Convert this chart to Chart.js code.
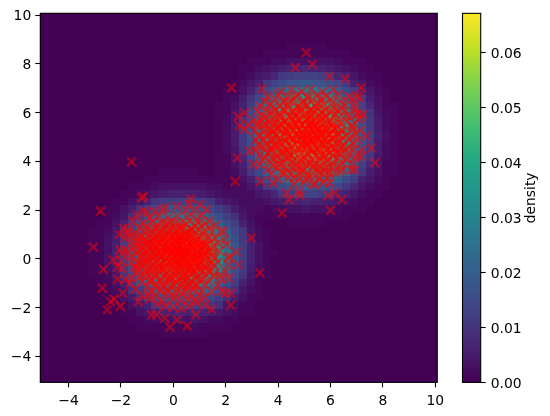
<!DOCTYPE html>
<html>
<head>
<meta charset="utf-8">
<script src="https://cdn.jsdelivr.net/npm/chart.js@4"></script>
<style>
  body { margin: 0; background: #fff; }
  canvas { position: absolute; left: 0; top: 0; }
</style>
</head>
<body>
<canvas id="densityChart" width="550" height="416"></canvas>
<canvas id="colorbarChart" width="550" height="416"></canvas>
<script>
const xTicks = [-4, -2, 0, 2, 4, 6, 8, 10];
const yTicks = [-4, -2, 0, 2, 4, 6, 8, 10];
const barTicks = [0, 0.01, 0.02, 0.03, 0.04, 0.05, 0.06];
const axisMin = -5.076;
const axisMax = 10.076;
const densityMax = 0.0671;
const cellSize = 0.303;

const viridis = ['#440154', '#482475', '#414487', '#355f8d', '#2a788e', '#21918c', '#22a884', '#44bf70', '#7ad151', '#bddf26', '#fde725'];

// density read by eye, in thousandths, on a coarse 50x50 grid. Bottom row first, trailing zeros left out.
const lowerCol = 4, lowerRow = 4;
const lowerDensity = [
  [],
  [],
  [0,0,0,0,0,0,0,0,0,0,0,1,1,1,1,1,1],
  [0,0,0,0,0,0,0,0,1,1,1,1,1,1,1,2,1,1,1,1],
  [0,0,0,0,0,0,0,1,1,2,2,3,3,4,3,4,3,2,2,1,1],
  [0,0,0,0,0,0,1,1,3,4,5,6,6,7,6,7,6,5,4,3,2,1,1],
  [0,0,0,0,0,1,1,3,4,6,10,11,13,12,13,12,11,10,9,4,3,1,1],
  [0,0,0,0,1,1,3,5,9,12,14,16,17,18,18,17,16,14,12,9,5,3,1,1],
  [0,0,0,0,1,2,4,9,12,16,20,22,24,26,25,24,22,20,16,12,9,4,2,1],
  [0,0,0,1,1,3,6,12,17,21,26,30,33,34,32,33,29,26,20,16,12,6,3,1],
  [0,0,1,1,2,4,10,14,19,26,32,36,39,41,40,38,35,31,25,19,14,10,4,1,1],
  [0,0,1,1,3,5,11,16,22,30,36,42,46,47,46,45,42,35,29,22,16,11,5,2,1],
  [0,0,1,1,3,6,12,17,24,32,38,45,50,49,52,50,46,39,32,24,17,12,6,3,1],
  [0,0,1,1,3,6,12,18,25,33,40,46,51,53,52,51,47,41,33,25,18,12,6,3,1,1],
  [0,0,1,1,3,6,12,17,24,32,39,45,49,52,62,60,48,40,32,24,17,12,6,3,1],
  [0,0,1,1,3,5,11,16,22,29,35,41,46,47,47,46,43,36,29,22,16,11,5,2,1],
  [0,0,1,1,2,4,10,14,19,25,31,36,38,41,40,38,35,30,25,19,14,10,4,2,1],
  [0,0,0,1,1,3,6,12,16,20,25,29,33,32,33,32,29,25,20,16,12,6,3,1],
  [0,0,0,0,1,2,4,9,12,16,19,22,24,25,25,24,22,19,16,12,9,4,2,1],
  [0,0,0,0,1,1,3,5,9,12,14,16,17,18,18,17,16,14,12,9,5,3,1,1],
  [0,0,0,0,0,1,1,3,4,6,10,11,12,12,13,12,11,10,6,4,3,1,1],
  [0,0,0,0,0,0,1,1,2,3,4,5,6,6,6,6,5,4,3,2,1,1],
  [0,0,0,0,0,0,0,1,1,1,2,3,3,3,3,3,3,2,2,1,1],
  [0,0,0,0,0,0,0,0,0,1,1,1,1,1,1,1,1,1,1],
  [0,0,0,0,0,0,0,0,0,0,0,1,1,1,1,1],
  [],
  []
];
const upperCol = 20, upperRow = 20;
const upperDensity = [
  [],
  [0,0,0,0,0,0,0,0,0,0,0,1,1,1,1,1],
  [0,0,0,0,0,0,0,0,1,1,1,1,1,1,1,1,1,1,1],
  [0,0,0,0,0,0,1,1,1,2,2,3,3,4,3,3,3,2,1,1,1],
  [0,0,0,0,0,1,1,2,3,4,5,6,6,7,6,6,5,4,3,2,1,1],
  [0,0,0,0,1,1,2,4,5,7,11,12,13,13,13,12,11,7,6,4,2,1,1],
  [0,0,0,0,1,2,4,6,11,13,15,17,19,19,18,18,16,14,11,7,4,2,1,1],
  [0,0,0,1,1,3,6,11,14,18,21,24,26,26,27,25,23,20,15,12,6,4,2,1],
  [0,0,1,1,2,5,10,14,19,24,28,31,33,35,34,33,30,26,21,15,11,5,3,1,1],
  [0,0,1,1,3,6,12,18,24,30,34,38,41,42,40,41,37,31,25,19,13,7,4,1,1],
  [0,0,1,1,4,7,14,21,28,35,38,44,47,46,48,45,42,36,29,22,15,10,4,2,1],
  [0,0,1,2,4,10,15,23,31,39,44,46,50,52,49,51,46,40,33,24,16,11,5,2,1],
  [0,0,1,2,5,11,16,24,33,40,46,50,53,51,54,52,49,42,34,25,17,12,5,2,1],
  [0,0,1,2,5,11,17,25,34,42,47,52,51,55,53,50,50,43,35,26,17,12,6,3,1],
  [0,0,1,2,5,11,16,24,33,41,46,49,54,52,53,51,49,42,34,25,17,11,5,2,1],
  [0,0,1,2,4,10,15,23,31,38,44,48,49,50,51,49,45,40,32,24,16,11,5,2,1],
  [0,0,1,1,4,7,14,21,28,34,39,43,46,47,45,45,42,36,29,21,15,10,4,2,1],
  [0,0,1,1,3,6,12,18,24,29,34,38,40,41,41,40,36,31,25,18,13,7,3,1,1],
  [0,0,0,1,2,5,10,14,19,24,28,32,33,35,34,32,30,26,20,15,11,5,3,1],
  [0,0,0,1,1,3,6,11,15,18,21,24,26,26,26,25,23,19,15,12,6,4,2,1],
  [0,0,0,0,1,2,4,6,11,13,15,17,18,19,18,17,16,14,11,6,4,2,1],
  [0,0,0,0,0,1,2,4,5,7,11,12,13,13,13,12,11,7,6,4,2,1,1],
  [0,0,0,0,0,1,1,2,3,4,5,6,6,7,6,6,5,4,3,2,1,1],
  [0,0,0,0,0,0,1,1,1,2,2,3,3,3,3,3,3,2,1,1,1],
  [0,0,0,0,0,0,0,0,1,1,1,1,1,1,1,1,1,1,1],
  [0,0,0,0,0,0,0,0,0,0,0,1,1,1,1,1],
  []
];

// samples around (0, 0)
const lowerSamples = [
  [-1.21,2.50],[-1.14,2.56],[-2.78,1.96],[-3.05,.48],[-2.67,-.43],[-2.71,-1.21],[-2.52,-2.10],[-2.39,-1.76],[-2.26,-1.66],[-2.02,-1.95],
  [-2.13,-.84],[-2.29,-.04],[-2.13,-.34],[-1.93,-1.41],[-1.33,-1.76],[-.95,-1.45],[-.83,-2.30],[-.64,-2.30],[-.32,-2.44],[-.13,-2.81],
  [.15,-2.51],[.53,-2.76],[.86,-2.30],[1.46,-2.07],[1.21,-1.89],[2.19,-1.91],[2.19,-1.41],[1.84,-1.34],[2.0,-1.41],[2.12,-.8],
  [2.48,-.25],[2.41,.27],[2.03,.58],[1.91,1.12],[1.63,1.40],[1.27,2.02],[1.02,2.22],[.67,2.46],[.61,2.26],[-1.6,3.98],[2.98,.86],[3.3,-.58],
  [-2.06,.99],[-1.91,1.26],[-1.75,1.08],[-2.03,.37],[-1.84,.37],[-1.65,.92],[-1.40,1.81],[-1.14,1.95],[-.7,1.95],[-.32,2.09],[.13,2.15],
  [-1.59,-.8],[-1.84,-.86],[-1.4,-.38],[1.59,-.59],[1.78,-.66],[2.1,.03],[-1.72,1.2],[-1.55,1.55],[-1.0,1.9],[-.4,2.02],[.48,2.0],[.8,1.95],
  [1.1,1.8],[1.35,1.55],[1.8,1.1],[1.95,.75],[2.15,.1],[2.1,-.25],[2.0,-.55],[1.85,-.85],[1.7,-1.1],[1.45,-1.35],[1.2,-1.6],[.9,-1.8],
  [.6,-1.95],[.3,-2.05],[0,-2.0],[-.3,-1.95],[-.6,-1.85],[-.9,-1.65],[-1.2,-1.5],[-1.45,-1.25],[-1.65,-1.0],[-1.95,-.4],[-2.0,-.1],[-1.95,.2],[-1.85,.85],
  [-.9,1.66],[-.55,1.74],[-.2,1.68],[.15,1.75],[.55,1.71],[.9,1.64],
  [-1.2,1.46],[-.8,1.55],[-.45,1.48],[-.1,1.53],[.25,1.44],[.6,1.56],[.95,1.49],[1.25,1.42],
  [-1.3,1.27],[-1.0,1.34],[-.6,1.25],[-.3,1.36],[.05,1.28],[.4,1.33],[.7,1.24],[1.05,1.35],[1.4,1.26],
  [-1.45,1.06],[-1.1,1.14],[-.8,1.08],[-.5,1.15],[-.15,1.05],[.15,1.12],[.45,1.07],[.75,1.16],[1.1,1.04],[1.45,1.12],
  [-1.5,.86],[-1.2,.94],[-.9,.88],[-.6,.95],[-.35,.85],[-.05,.92],[.2,.87],[.5,.94],[.8,.86],[1.05,.93],[1.35,.88],[1.6,.84],
  [-1.55,.66],[-1.25,.74],[-1.0,.68],[-.7,.75],[-.4,.65],[-.15,.72],[.1,.67],[.3,.75],[.6,.66],[.85,.73],[1.15,.68],[1.45,.74],[1.7,.65],
  [-1.6,.46],[-1.3,.54],[-.95,.47],[-.65,.55],[-.4,.45],[-.2,.52],[.05,.47],[.25,.54],[.5,.45],[.7,.53],[.95,.48],[1.2,.55],[1.55,.46],
  [-1.7,.26],[-1.3,.34],[-1.0,.27],[-.75,.35],[-.5,.25],[-.25,.33],[0,.28],[.2,.35],[.4,.26],[.65,.33],[.9,.27],[1.2,.34],[1.5,.25],[1.75,.32],
  [-1.65,.06],[-1.25,.14],[-.95,.07],[-.7,.15],[-.45,.05],[-.2,.13],[.05,.08],[.25,.15],[.5,.06],[.7,.13],[.95,.07],[1.25,.14],[1.6,.05],
  [-1.6,-.14],[-1.2,-.06],[-.9,-.13],[-.6,-.05],[-.35,-.15],[-.1,-.07],[.1,-.12],[.35,-.05],[.6,-.14],[.8,-.07],[1.1,-.13],[1.4,-.06],[1.7,-.15],
  [-1.5,-.34],[-1.15,-.26],[-.85,-.33],[-.55,-.25],[-.3,-.35],[-.05,-.27],[.2,-.32],[.45,-.25],[.7,-.34],[.95,-.27],[1.25,-.33],[1.55,-.26],
  [-1.4,-.54],[-1.05,-.46],[-.75,-.53],[-.45,-.45],[-.2,-.55],[.05,-.47],[.3,-.52],[.55,-.45],[.8,-.54],[1.05,-.47],[1.4,-.53],
  [-1.3,-.74],[-.95,-.66],[-.65,-.73],[-.35,-.65],[-.1,-.75],[.15,-.67],[.4,-.72],[.65,-.65],[.95,-.74],[1.25,-.67],[1.55,-.73],
  [-1.2,-.94],[-.85,-.86],[-.5,-.93],[-.2,-.85],[.1,-.95],[.4,-.87],[.7,-.92],[1.0,-.85],[1.35,-.94],
  [-1.0,-1.14],[-.7,-1.06],[-.35,-1.13],[0,-1.05],[.3,-1.15],[.6,-1.07],[.9,-1.12],[1.2,-1.05],
  [-.85,-1.34],[-.5,-1.26],[-.2,-1.33],[.15,-1.25],[.45,-1.35],[.8,-1.27],[1.1,-1.32],
  [-.65,-1.54],[-.3,-1.46],[.05,-1.53],[.35,-1.45],[.7,-1.55],[1.0,-1.47],
  [-.4,-1.74],[0,-1.66],[.3,-1.73],[.55,-1.65],[.85,-1.72]
];
const lowerCore = [
  [.02,.11],[.31,-.07],[-.13,.38],[.47,.29],[.18,.58],[-.29,.04],[.11,-.23],[.62,.07],[-.06,.71],[.39,.66],[-.41,.49],[.72,.41],[-.52,.16],[.27,-.38],[-.18,-.31],
  [.55,-.21],[.83,.19],[-.37,.78],[.08,.91],[.58,.86],[-.66,.42],[.91,.52],[-.48,-.18],[.42,-.53],[-.02,-.58],[.77,-.12],[-.72,.03],[.23,.99],[-.23,.96],[.68,.71],
  [.14,.23],[.36,.44],[-.09,.17],[.21,.06],[.53,.16],[-.22,.24],[.03,.53],[.29,.77],[-.31,.62],[.49,.53],[.12,-.11],[.41,.03],[-.14,-.12],[.66,.24],[.85,.36],
  [-.57,.67],[-.76,.24],[-.83,.53],[.98,.31],[1.07,.11],[.94,-.09],[-.61,-.33],[-.39,-.46],[-.12,-.73],[.17,-.52],[.37,-.78],[.61,-.42],[.86,-.33],[.73,-.63],[1.02,-.41],
  [-.79,-.22],[-.94,-.02],[-1.05,.22],[-.89,.71],[-.68,.86],[-.47,1.01],[-.17,1.19],[.09,1.12],[.33,1.22],[.56,1.09],[.82,1.03],[1.01,.77],[1.14,.56],[1.21,.27],[1.26,-.02],
  [1.17,-.26],[1.09,-.57],[.88,-.81],[.61,-.97],[.33,-1.03],[.06,-.94],[-.21,-1.02],[-.47,-.83],[-.71,-.64],[-.92,-.47],[-1.11,-.19],[-1.23,.07],[-1.17,.42],[-1.08,.77],[-.91,1.02],
  [-.05,.29],[.26,.33],[.44,.19],[.07,.41],[-.27,.41],[.57,.46],[.17,.37],[.33,.12],[-.03,-.04],[.22,-.17],[.48,-.11],[-.33,-.13],[-.56,.3],[.74,.58],[.51,.72],
  [.12,.76],[-.15,.56],[-.44,.31],[-.24,-.19],[.03,-.36],[.34,-.29],[.64,-.31],[.79,.03],[.96,.14],[.86,.66],[.34,.94],[-.11,.84],[-.52,.82],[-.74,.61],[-.86,.33],
  [-.88,.12],[-.67,-.12],[-.49,-.37],[-.26,-.61],[.09,-.69],[.46,-.67],[.71,-.47],[.92,-.21],[1.13,.02],[1.11,.37],[1.03,.62],[.71,.93],[.44,1.03],[.04,1.03],[-.33,.92],
  [-1.38,.52],[-1.42,.21],[-1.36,-.16],[-1.28,-.43],[-1.12,-.71],[-.91,-.93],[-.63,-1.18],[-.27,-1.29],[.13,-1.37],[.52,-1.21],[.85,-1.07],[1.13,-.83],[1.33,-.47],[1.46,-.17],[1.49,.14],
  [1.42,.47],[1.31,.81],[1.16,1.14],[.82,1.34],[.47,1.42],[.09,1.48],[-.27,1.44],[-.63,1.38],[-.95,1.19],[-1.21,.91],[-1.32,.76],[-.72,1.28],[.66,1.21],[1.27,.57],[1.38,-.28],
  [.76,-1.16],[-.07,-1.18],[-.81,-.84],[-1.26,-.22],[-1.04,.62],[-.38,1.21],[.27,1.31],[.97,1.21],[1.34,.29],[1.21,-.44],[.49,-1.09],[-.44,-1.07],[-1.02,-.56],[-1.31,.33],[-.14,1.38],
  [.19,.19],[.08,.31],[.28,.24],[.38,.09],[-.02,.22],[.11,.48],[.33,.57],[.56,.34],[.61,.59],[-.18,.47],[-.34,.27],[-.26,.69],[.16,.69],[.43,.79],[.77,.49],
  [.87,.07],[.69,-.04],[.52,-.33],[.24,-.26],[-.07,-.21],[-.41,.09],[-.62,.21],[-.69,.53],[-.47,.63],[.02,.83],[.24,.87],[.63,.97],[.93,.79],[1.07,.47],[1.16,.18],
  [1.04,-.21],[.81,-.53],[.56,-.77],[.22,-.87],[-.09,-.87],[-.37,-.71],[-.58,-.52],[-.81,-.38],[-1.01,-.09],[-1.09,.33],[-.97,.58],[-.79,.82],[-.58,1.03],[-.27,1.08],[.18,1.23]
];

// samples around (5, 5)
const upperSamples = [
  [5.07,8.46],[5.31,7.98],[4.65,7.85],[5.95,7.48],[6.56,7.39],[2.22,7.02],[7.17,7.02],[7.09,6.61],[7.01,6.68],[3.39,6.98],
  [2.48,5.83],[2.54,5.45],[2.73,5.99],[2.86,5.51],[2.73,5.31],[2.44,4.14],[2.92,4.42],[3.05,3.87],[2.36,3.18],[3.33,3.18],
  [3.81,3.11],[4.32,2.70],[4.42,2.43],[4.15,1.88],[4.80,2.74],[4.83,2.59],[5.91,2.59],[6.16,2.70],[6.44,2.43],[6.0,1.99],
  [7.7,3.94],[7.56,4.55],[7.37,5.03],[7.24,5.93],[7.05,5.95],[7.15,5.8],[6.8,3.66],[6.92,3.66],[6.35,3.59],[7.18,4.21],[5.97,3.11],[5.34,3.05],
  [4.1,6.86],[4.5,6.94],[4.9,6.87],[5.25,6.95],[5.7,6.86],[6.1,6.93],
  [3.6,6.66],[4.0,6.74],[4.35,6.67],[4.75,6.75],[5.1,6.65],[5.5,6.72],[5.85,6.68],[6.3,6.75],[6.7,6.66],
  [3.5,6.46],[3.9,6.54],[4.25,6.47],[4.6,6.55],[4.95,6.45],[5.3,6.53],[5.65,6.48],[6.0,6.55],[6.4,6.46],[6.8,6.53],
  [3.3,6.26],[3.7,6.34],[4.05,6.27],[4.4,6.35],[4.75,6.25],[5.1,6.33],[5.4,6.28],[5.75,6.35],[6.1,6.26],[6.5,6.33],[6.9,6.27],
  [3.2,6.06],[3.55,6.14],[3.9,6.07],[4.2,6.15],[4.55,6.05],[4.85,6.13],[5.2,6.08],[5.5,6.15],[5.8,6.06],[6.2,6.13],[6.55,6.07],[6.95,6.14],
  [3.4,5.86],[3.7,5.94],[4.05,5.87],[4.35,5.95],[4.65,5.85],[4.95,5.93],[5.25,5.88],[5.55,5.95],[5.85,5.86],[6.2,5.93],[6.6,5.87],[7.0,5.94],
  [3.05,5.66],[3.35,5.74],[3.65,5.67],[3.95,5.75],[4.25,5.65],[4.55,5.73],[4.8,5.68],[5.1,5.75],[5.4,5.66],[5.7,5.73],[6.0,5.67],[6.3,5.74],[6.65,5.65],[7.05,5.72],
  [3.2,5.46],[3.5,5.54],[3.8,5.47],[4.1,5.55],[4.4,5.45],[4.65,5.53],[4.9,5.48],[5.2,5.55],[5.45,5.46],[5.75,5.53],[6.05,5.47],[6.4,5.54],[6.8,5.45],
  [3.1,5.26],[3.45,5.34],[3.75,5.27],[4.0,5.35],[4.3,5.25],[4.55,5.33],[4.8,5.28],[5.05,5.35],[5.3,5.26],[5.55,5.33],[5.85,5.27],[6.15,5.34],[6.5,5.25],[6.85,5.32],[7.15,5.27],
  [3.3,5.06],[3.6,5.14],[3.9,5.07],[4.2,5.15],[4.45,5.05],[4.7,5.13],[4.95,5.08],[5.15,5.15],[5.4,5.06],[5.65,5.13],[5.95,5.07],[6.25,5.14],[6.6,5.05],[6.95,5.12],
  [3.15,4.86],[3.45,4.94],[3.75,4.87],[4.05,4.95],[4.3,4.85],[4.55,4.93],[4.8,4.88],[5.0,4.95],[5.25,4.86],[5.5,4.93],[5.75,4.87],[6.05,4.94],[6.35,4.85],[6.7,4.92],[7.05,4.87],
  [3.25,4.66],[3.55,4.74],[3.85,4.67],[4.15,4.75],[4.4,4.65],[4.65,4.73],[4.9,4.68],[5.1,4.75],[5.35,4.66],[5.6,4.73],[5.85,4.67],[6.15,4.74],[6.5,4.65],[6.85,4.72],
  [3.1,4.46],[3.4,4.54],[3.7,4.47],[4.0,4.55],[4.3,4.45],[4.55,4.53],[4.8,4.48],[5.05,4.55],[5.3,4.46],[5.55,4.53],[5.85,4.47],[6.2,4.54],[6.55,4.45],[6.9,4.52],[7.2,4.47],
  [3.3,4.26],[3.6,4.34],[3.9,4.27],[4.2,4.35],[4.5,4.25],[4.8,4.33],[5.1,4.28],[5.35,4.35],[5.65,4.26],[5.95,4.33],[6.3,4.27],[6.65,4.34],[7.0,4.25],
  [3.4,4.06],[3.75,4.14],[4.05,4.07],[4.4,4.15],[4.7,4.05],[5.0,4.13],[5.3,4.08],[5.6,4.15],[5.9,4.06],[6.25,4.13],[6.6,4.07],[6.95,4.14],
  [3.3,3.86],[3.7,3.94],[4.0,3.87],[4.35,3.95],[4.7,3.85],[5.05,3.93],[5.4,3.88],[5.75,3.95],[6.1,3.86],[6.45,3.93],[6.85,3.87],
  [3.6,3.66],[3.95,3.74],[4.3,3.67],[4.65,3.75],[5.0,3.65],[5.35,3.73],[5.7,3.68],[6.05,3.75],[6.45,3.66],
  [3.75,3.46],[4.1,3.54],[4.5,3.47],[4.9,3.55],[5.25,3.45],[5.6,3.53],[5.95,3.48],[6.2,3.55],
  [4.0,3.26],[4.4,3.34],[4.8,3.27],[5.2,3.35],[5.55,3.25],[5.9,3.33],
  [4.6,3.06],[5.0,3.14],[5.4,3.07],[5.75,3.13]
];
const upperCore = [
  [5.02,4.91],[5.31,4.77],[4.87,5.18],[5.47,5.09],[5.18,5.38],[4.71,4.84],[5.11,4.57],[5.62,4.87],[4.94,5.51],[5.39,5.46],[4.59,5.29],[5.72,5.21],[4.48,4.96],[5.27,4.42],[4.82,4.49],
  [5.55,4.59],[5.83,4.99],[4.63,5.58],[5.08,5.71],[5.58,5.66],[4.34,5.22],[5.91,5.32],[4.52,4.62],[5.42,4.27],[4.98,4.22],[5.77,4.68],[4.28,4.83],[5.23,5.79],[4.77,5.76],[5.68,5.51],
  [5.14,5.03],[5.36,5.24],[4.91,4.97],[5.21,4.86],[5.53,4.96],[4.78,5.04],[5.03,5.33],[5.29,5.57],[4.69,5.42],[5.49,5.33],[5.12,4.69],[5.41,4.83],[4.86,4.68],[5.66,5.04],[5.85,5.16],
  [4.43,5.47],[4.24,5.04],[4.17,5.33],[5.98,5.11],[6.07,4.91],[5.94,4.71],[4.39,4.47],[4.61,4.34],[4.88,4.07],[5.17,4.28],[5.37,4.02],[5.61,4.38],[5.86,4.47],[5.73,4.17],[6.02,4.39],
  [4.21,4.58],[4.06,4.78],[3.95,5.02],[4.11,5.51],[4.32,5.66],[4.53,5.81],[4.83,5.99],[5.09,5.92],[5.33,6.02],[5.56,5.89],[5.82,5.83],[6.01,5.57],[6.14,5.36],[6.21,5.07],[6.26,4.78],
  [6.17,4.54],[6.09,4.23],[5.88,3.99],[5.61,3.83],[5.33,3.77],[5.06,3.86],[4.79,3.78],[4.53,3.97],[4.29,4.16],[4.08,4.33],[3.89,4.61],[3.77,4.87],[3.83,5.22],[3.92,5.57],[4.09,5.82],
  [3.62,5.32],[3.58,5.01],[3.64,4.64],[3.72,4.37],[3.88,4.09],[4.09,3.87],[4.37,3.62],[4.73,3.51],[5.13,3.43],[5.52,3.59],[5.85,3.73],[6.13,3.97],[6.33,4.33],[6.46,4.63],[6.49,4.94],
  [6.42,5.27],[6.31,5.61],[6.16,5.94],[5.82,6.14],[5.47,6.22],[5.09,6.28],[4.73,6.24],[4.37,6.18],[4.05,5.99],[3.79,5.71],[3.68,5.56],[4.28,6.08],[5.66,6.01],[6.27,5.37],[6.38,4.52],
  [5.76,3.64],[4.93,3.62],[4.19,3.96],[3.74,4.58],[3.96,5.42],[4.62,6.01],[5.27,6.11],[5.97,6.01],[6.34,5.09],[6.21,4.36],[5.49,3.71],[4.56,3.73],[3.98,4.24],[3.69,5.13],[4.86,6.18],
  [3.23,5.58],[3.52,5.83],[3.82,6.23],[4.18,6.42],[4.67,6.63],[5.16,6.58],[5.62,6.61],[6.08,6.42],[6.47,6.17],[6.72,5.82],[6.83,5.43],[6.79,5.02],[6.72,4.58],[6.62,4.17],[6.38,3.83],
  [5.95,3.57],[5.58,3.34],[5.07,3.27],[4.62,3.31],[4.22,3.52],[3.84,3.82],[3.52,4.17],[3.34,4.62],[3.26,5.03],[3.42,5.49],[3.76,6.04],[4.43,6.46],[4.98,6.41],[5.53,6.37],[6.27,6.05],
  [5.17,4.98],[5.06,5.12],[5.27,5.04],[5.38,4.92],[4.96,4.83],[5.1,5.27],[5.33,5.37],[5.57,5.18],[5.63,5.38],[4.82,5.31],[4.67,5.07],[4.75,5.5],[5.16,5.5],[5.44,5.62],[5.78,5.33],
  [5.88,4.86],[5.69,4.76],[5.52,4.47],[5.24,4.54],[4.93,4.59],[4.59,4.89],[4.38,5.02],[4.31,5.34],[4.53,5.44],[5.02,5.64],[5.24,5.68],[5.63,5.77],[5.93,5.59],[6.08,5.27],[6.16,4.98],
  [6.04,4.59],[5.81,4.27],[5.56,4.03],[5.22,3.93],[4.91,3.93],[4.63,4.09],[4.42,4.28],[4.19,4.42],[3.99,4.71],[3.91,5.13],[4.03,5.38],[4.21,5.62],[4.42,5.83],[4.73,5.88],[5.18,6.03]
];

const tickFont = { family: 'DejaVu Sans', size: 13.9 };

function signedLabel(v) {
  return v < 0 ? '\u2212' + Math.abs(v) : String(v);
}

function hexRgb(h) {
  return [1, 3, 5].map(k => parseInt(h.slice(k, k + 2), 16));
}

function viridisColor(value) {
  const t = Math.min(value / densityMax, 1) * (viridis.length - 1);
  const k = Math.min(Math.floor(t), viridis.length - 2);
  const a = hexRgb(viridis[k]), b = hexRgb(viridis[k + 1]);
  const c = a.map((v, n) => Math.round(v + (b[n] - v) * (t - k)));
  return `rgb(${c[0]},${c[1]},${c[2]})`;
}

function patchValue(patch, col, row, i, j) {
  const r = patch[j - row];
  return r && r[i - col] ? r[i - col] : 0;
}

const frame = {
  id: 'frame',
  afterDatasetsDraw(chart) {
    const a = chart.chartArea, ctx = chart.ctx;
    ctx.save();
    ctx.strokeStyle = '#000';
    ctx.lineWidth = 1.1;
    ctx.strokeRect(a.left, a.top, a.right - a.left, a.bottom - a.top);
    ctx.restore();
  }
};

const heatmap = {
  id: 'heatmap',
  beforeDatasetsDraw(chart) {
    const { x, y } = chart.scales, ctx = chart.ctx;
    for (let j = 0; j < 50; j++) {
      for (let i = 0; i < 50; i++) {
        const v = patchValue(lowerDensity, lowerCol, lowerRow, i, j) + patchValue(upperDensity, upperCol, upperRow, i, j);
        // snap to whole pixels so neighbouring cells leave no seams
        const x0 = Math.round(x.getPixelForValue(axisMin + i * cellSize));
        const x1 = Math.round(x.getPixelForValue(axisMin + (i + 1) * cellSize));
        const y0 = Math.round(y.getPixelForValue(axisMin + (j + 1) * cellSize));
        const y1 = Math.round(y.getPixelForValue(axisMin + j * cellSize));
        ctx.fillStyle = viridisColor(v / 1000);
        ctx.fillRect(x0, y0, x1 - x0, y1 - y0);
      }
    }
  }
};

const axisGrid = { drawOnChartArea: false, drawTicks: true, tickLength: 5, tickColor: '#000', tickWidth: 1.1 };

new Chart(document.getElementById('densityChart'), {
  type: 'scatter',
  data: {
    datasets: [{
      data: lowerSamples.concat(lowerCore, upperSamples, upperCore).map(p => ({ x: p[0], y: p[1] })),
      pointStyle: 'crossRot',
      pointRadius: 6.2,
      borderColor: 'rgba(255,0,0,0.5)',
      borderWidth: 2.2,
      backgroundColor: 'rgba(255,0,0,0.5)'
    }]
  },
  options: {
    responsive: false,
    animation: false,
    layout: { padding: { left: 0, top: 13.3, right: 112.7, bottom: 0 } },
    plugins: { legend: { display: false }, tooltip: { enabled: false } },
    scales: {
      x: {
        type: 'linear',
        min: axisMin,
        max: axisMax,
        afterBuildTicks: s => { s.ticks = xTicks.map(v => ({ value: v })); },
        afterFit: s => { s.height = 33.6; },
        border: { display: false },
        grid: axisGrid,
        ticks: { color: '#000', font: tickFont, padding: 6, maxRotation: 0, autoSkip: false, callback: signedLabel }
      },
      y: {
        type: 'linear',
        min: axisMin,
        max: axisMax,
        afterBuildTicks: s => { s.ticks = yTicks.map(v => ({ value: v })); },
        afterFit: s => { s.width = 40.3; },
        border: { display: false },
        grid: axisGrid,
        ticks: { color: '#000', font: tickFont, padding: 4, labelOffset: 1.5, autoSkip: false, callback: signedLabel }
      }
    }
  },
  plugins: [heatmap, frame]
});

// colorbar, one floating bar on the density scale
const colorbarLabel = {
  id: 'colorbarLabel',
  afterDraw(chart) {
    const ctx = chart.ctx, a = chart.chartArea;
    ctx.save();
    ctx.translate(531, (a.top + a.bottom) / 2);
    ctx.rotate(-Math.PI / 2);
    ctx.font = '13.9px "DejaVu Sans"';
    ctx.fillStyle = '#000';
    ctx.textAlign = 'center';
    ctx.textBaseline = 'middle';
    ctx.fillText('density', 0, 0);
    ctx.restore();
  }
};

new Chart(document.getElementById('colorbarChart'), {
  type: 'bar',
  data: {
    labels: ['density'],
    datasets: [{
      data: [[0, densityMax]],
      barPercentage: 1,
      categoryPercentage: 1,
      backgroundColor(context) {
        const a = context.chart.chartArea;
        if (!a) return viridis[0];
        const g = context.chart.ctx.createLinearGradient(0, a.bottom, 0, a.top);
        viridis.forEach((c, k) => g.addColorStop(k / (viridis.length - 1), c));
        return g;
      }
    }]
  },
  options: {
    responsive: false,
    animation: false,
    layout: { padding: { left: 462.5, top: 13.3, right: 0, bottom: 33.6 } },
    plugins: { legend: { display: false }, tooltip: { enabled: false } },
    scales: {
      x: { display: false },
      y: {
        position: 'right',
        min: 0,
        max: densityMax,
        afterBuildTicks: s => { s.ticks = barTicks.map(v => ({ value: v })); },
        afterFit: s => { s.width = 69.3; },
        border: { display: false },
        grid: axisGrid,
        ticks: { color: '#000', font: tickFont, padding: 5, labelOffset: 1.5, callback: v => v.toFixed(2) }
      }
    }
  },
  plugins: [frame, colorbarLabel]
});
</script>
</body>
</html>
